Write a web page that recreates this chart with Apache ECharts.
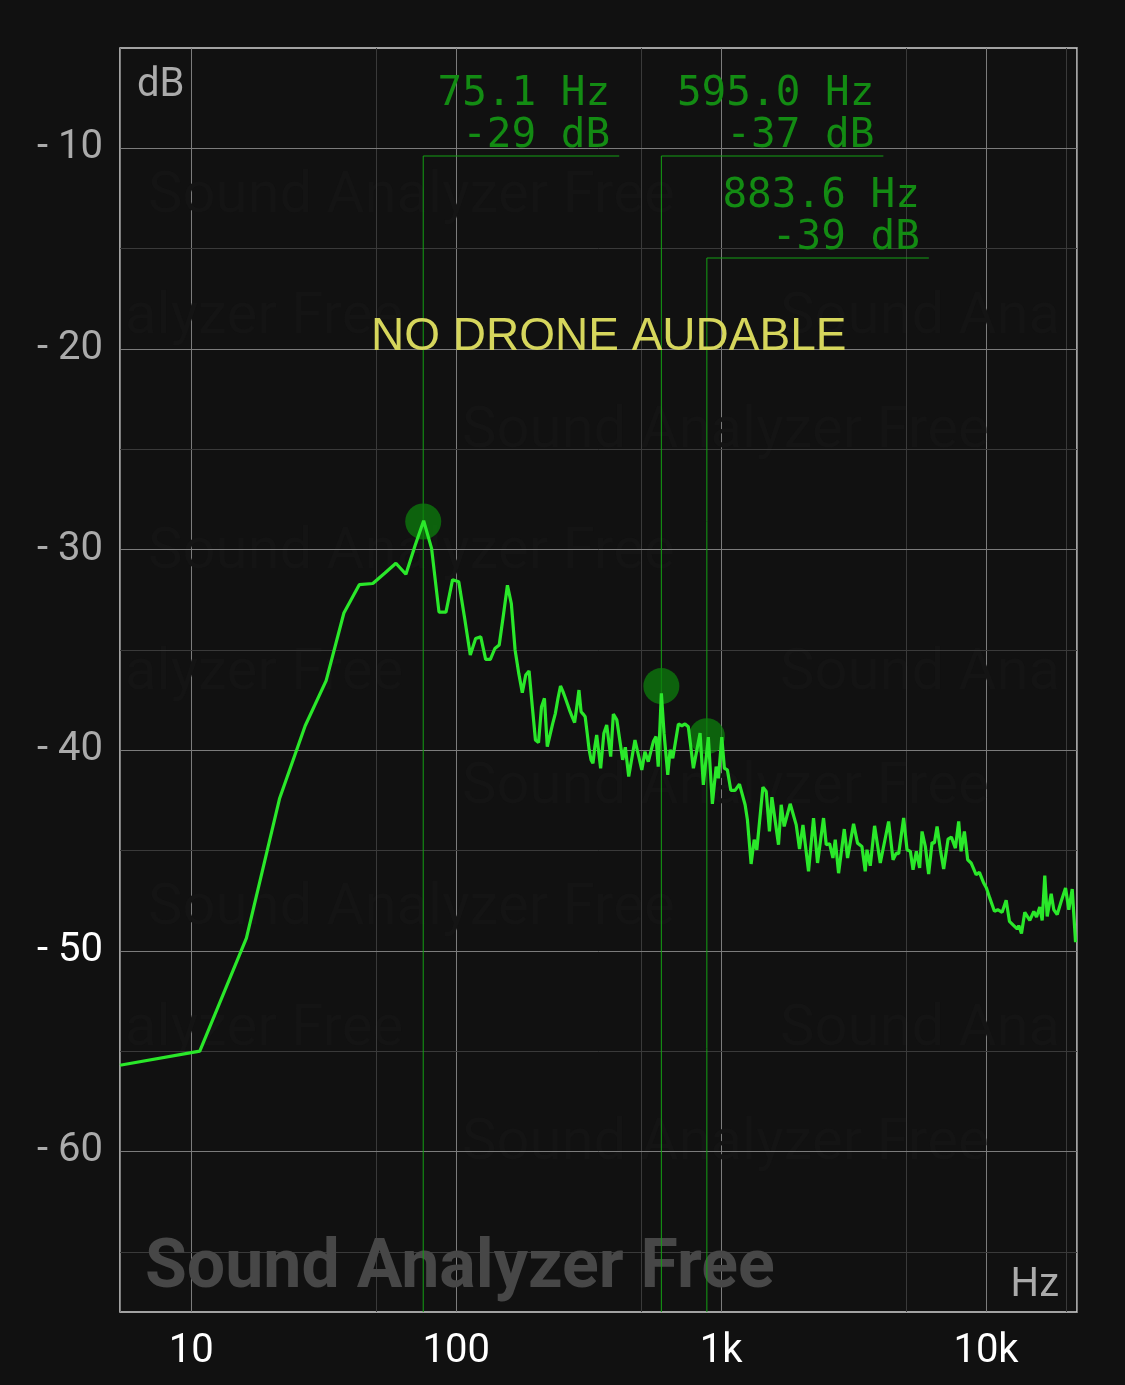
<!DOCTYPE html>
<html><head><meta charset="utf-8">
<script src="https://cdn.jsdelivr.net/npm/echarts@6/dist/echarts.min.js"></script>
<style>html,body{margin:0;padding:0;background:#111111;} #c{width:1125px;height:1385px;}</style>
</head><body><div id="c"></div>
<script>
// ---- data ----
const freqs = [5.38, 10.77, 16.15, 21.53, 26.92, 32.30, 37.68, 43.07, 48.45, 53.83,
  59.22, 64.60, 69.98, 75.37, 80.75, 86.13, 91.52, 96.90, 102.28, 107.67,
  113.05, 118.43, 123.82, 129.20, 134.58, 139.97, 145.35, 150.73, 156.12, 161.50,
  166.88, 172.27, 177.65, 183.03, 188.42, 193.80, 199.18, 204.57, 209.95, 215.33,
  220.72, 226.10, 231.48, 236.87, 242.25, 247.63, 253.02, 258.40, 263.78, 269.17,
  274.55, 279.93, 285.32, 290.70, 296.08, 301.47, 306.85, 312.23, 317.62, 323.00,
  328.38, 333.77, 339.15,
  351, 361, 370, 383, 392, 404, 425, 435, 448, 473, 502, 516, 531, 555, 568, 579,
  595, 609, 629, 642, 657, 690, 711, 731, 752, 786, 833, 857, 895, 927, 958, 977,
  1006, 1029, 1056, 1088, 1129, 1173, 1232, 1257, 1298, 1333, 1364, 1438, 1480, 1522,
  1555, 1647, 1686, 1730, 1823, 1921, 1977, 2037, 2138, 2233, 2312, 2436, 2494, 2567,
  2643, 2697, 2776, 2917, 3001, 3162, 3274, 3401, 3500, 3553, 3656, 3796, 3989, 4289,
  4457, 4587, 4680, 4887, 5033, 5180, 5303, 5458, 5616, 5735, 5902, 6073, 6256, 6383,
  6535, 6725, 6920, 7191, 7400, 7663, 7885, 8052, 8287, 8527, 8784, 8937, 9175, 9443,
  9802, 10035, 10327, 10759, 11071, 11503, 11912, 12258, 12727, 13108, 13293, 13609, 14006, 14630,
  15148, 15508, 15957, 16293, 16665, 17018, 17620, 18023, 18566, 19223, 19957, 20535, 21155, 21772];
const dbs = [-55.7, -55.0, -49.36, -42.42, -38.78, -36.53, -33.16, -31.75, -31.69, -31.17,
  -30.68, -31.23, -29.8, -28.56, -29.94, -33.12, -33.12, -31.5, -31.6, -33.43,
  -35.26, -34.43, -34.35, -35.47, -35.47, -34.93, -34.76, -33.27, -31.78, -32.69,
  -35.0, -36.17, -37.13, -36.25, -36.05, -37.83, -39.49, -39.62, -37.83, -37.41,
  -39.82, -39.24, -38.66, -38.16, -37.41, -36.8, -37.08, -37.41, -37.75, -38.08,
  -38.36, -38.62, -37.83, -37.0, -38.08, -38.2, -38.33, -39.15, -39.98, -40.48,
  -40.65, -39.82, -39.24,
  -40.9, -39.15, -38.74, -40.32, -38.2, -38.49, -40.48, -39.85, -41.31, -39.49, -40.98, -40.07, -40.57, -39.57, -39.32, -40.82,
  -37.16, -39.15, -41.23, -39.98, -40.4, -38.69, -38.78, -38.69, -38.83, -40.9, -39.15, -41.73, -39.35, -42.67, -40.82, -41.4,
  -39.35, -40.9, -40.98, -42.0, -42.0, -41.69, -42.72, -43.47, -45.67, -44.46, -44.96, -41.84, -42.06, -44.05,
  -42.34, -44.71, -42.72, -43.8, -42.67, -43.72, -44.93, -43.72, -46.04, -43.38, -45.62, -43.38, -44.71, -44.66,
  -45.37, -44.46, -46.13, -43.93, -45.37, -43.67, -44.63, -44.8, -46.04, -44.96, -45.76, -43.77, -45.62, -43.55,
  -45.46, -45.13, -45.16, -43.38, -44.96, -45.04, -45.96, -45.04, -45.87, -44.05, -44.8, -46.17, -44.6, -44.63,
  -43.8, -44.96, -45.92, -44.43, -44.33, -44.88, -43.55, -45.04, -44.05, -45.46, -45.62, -45.54, -46.2, -46.09,
  -46.62, -46.87, -47.36, -48.03, -47.95, -48.08, -47.48, -48.53, -48.74, -48.91, -48.74, -49.14, -48.08, -48.48,
  -48.03, -48.31, -47.81, -48.48, -46.25, -48.28, -47.15, -47.95, -48.19, -47.53, -46.87, -47.95, -46.92, -49.57];

const peakFreqs = [75.1, 595.0, 883.6];
const peakDbs = [-28.6, -36.8, -39.3];

const xTickValues = [10, 100, 1000, 10000];
const xTickLabels = ['10', '100', '1k', '10k'];
const xMinorGrid = [50, 500, 5000, 20000];
const yTickValues = [-60, -50, -40, -30, -20, -10];
const yTickLabels = ['- 60', '- 50', '- 40', '- 30', '- 20', '- 10'];
const yMinorGrid = [-65, -55, -45, -35, -25, -15];
const xRange = [5.383, 22050];
const yRange = [-68, -5];
const statusText = 'NO DRONE AUDABLE';
const watermark = 'Sound Analyzer Free';

// ---- chart ----
const lineData = freqs.map((f, i) => [f, dbs[i]]);
const peakData = peakFreqs.map((f, i) => [f, peakDbs[i]]);

const gridMarks = [];
xMinorGrid.forEach(v => gridMarks.push({ xAxis: v, lineStyle: { color: '#3a3a3a', width: 1, type: 'solid' }, label: { show: false } }));
yMinorGrid.forEach(v => gridMarks.push({ yAxis: v, lineStyle: { color: '#3a3a3a', width: 1, type: 'solid' }, label: { show: false } }));
yTickValues.forEach((v, i) => gridMarks.push({
  yAxis: v, lineStyle: { color: '#7c7c7c', width: 1, type: 'solid' },
  label: { show: true, position: 'start', formatter: yTickLabels[i], distance: 17,
    color: v === -50 ? '#ffffff' : '#ababab', fontSize: 40, fontFamily: 'Roboto' }
}));

function xLabel(v) {
  for (let i = 0; i < xTickValues.length; i++) {
    if (Math.abs(v - xTickValues[i]) / xTickValues[i] < 1e-6) return xTickLabels[i];
  }
  return '';
}

const option = {
  backgroundColor: '#111111',
  animation: false,
  grid: { left: 120, top: 48, width: 957, height: 1264, show: true, borderColor: '#d2d2d2', borderWidth: 1.5, backgroundColor: 'transparent' },
  xAxis: {
    type: 'log', logBase: 10, min: xRange[0], max: xRange[1],
    axisLine: { show: false }, axisTick: { show: false },
    splitLine: { show: true, lineStyle: { color: '#7c7c7c', width: 1 } },
    minorTick: { show: false }, minorSplitLine: { show: false },
    axisLabel: { formatter: xLabel, color: '#ffffff', fontSize: 40, fontFamily: 'Roboto', margin: 20, showMinLabel: false, showMaxLabel: false }
  },
  yAxis: {
    type: 'value', min: yRange[0], max: yRange[1],
    axisLine: { show: false }, axisTick: { show: false }, axisLabel: { show: false }, splitLine: { show: false }
  },
  series: [
    {
      type: 'scatter', data: peakData, symbol: 'circle', symbolSize: 36, z: 2,
      itemStyle: { color: 'rgba(12,128,12,0.92)' }, silent: true
    },
    {
      type: 'line', data: lineData, showSymbol: false, symbol: 'none', z: 3, clip: true,
      lineStyle: { color: '#2ae82a', width: 3.2 },
      markLine: { silent: true, symbol: 'none', z: 1, animation: false, data: gridMarks }
    }
  ]
};

const chart = echarts.init(document.getElementById('c'));
chart.setOption(option);

// ---- overlays positioned through the chart's own scales ----
const g = [];
const faint = '#141414';
const faintFont = '58px Roboto';
const rows = [[197, 148, watermark], [318, 125, 'alyzer Free'], [318, 780, 'Sound Ana'], [432, 462, watermark]];
[0, 356, 712].forEach(dy => rows.forEach(r => {
  if (r[0] + dy < 1200) g.push({ type: 'text', x: r[1], y: r[0] + dy, z: 0, silent: true,
    style: { text: r[2], font: faintFont, fill: faint, textAlign: 'left', textVerticalAlign: 'middle', align: 'left', verticalAlign: 'middle' } });
}));

g.push({ type: 'text', x: 145, y: 1270, z: 1, silent: true,
  style: { text: watermark, font: 'bold 68px Roboto', fill: '#474747', textAlign: 'left', textVerticalAlign: 'middle', align: 'left', verticalAlign: 'middle' } });
g.push({ type: 'text', x: 137, y: 86, z: 5, silent: true,
  style: { text: 'dB', font: '40px Roboto', fill: '#ababab', textAlign: 'left', textVerticalAlign: 'middle', align: 'left', verticalAlign: 'middle' } });
g.push({ type: 'text', x: 1059, y: 1286, z: 5, silent: true,
  style: { text: 'Hz', font: '40px Roboto', fill: '#ababab', textAlign: 'right', textVerticalAlign: 'middle', align: 'right', verticalAlign: 'middle' } });
g.push({ type: 'text', x: 371, y: 337, z: 5, silent: true,
  style: { text: statusText, font: '46px "Liberation Sans"', fill: '#d6d65c', textAlign: 'left', textVerticalAlign: 'middle', align: 'left', verticalAlign: 'middle' } });

const labelLineY = [156, 156, 258];
const labelLineLen = [196, 222, 222];
const bottomY = chart.convertToPixel({ yAxisIndex: 0 }, yRange[0]);
const mono = '41px "DejaVu Sans Mono"';
peakFreqs.forEach((f, i) => {
  const px = chart.convertToPixel({ xAxisIndex: 0 }, f);
  const ly = labelLineY[i];
  g.push({ type: 'line', z: 1, silent: true, shape: { x1: px, y1: ly, x2: px, y2: bottomY }, style: { stroke: '#14a014', lineWidth: 1 } });
  g.push({ type: 'line', z: 1, silent: true, shape: { x1: px, y1: ly, x2: px + labelLineLen[i], y2: ly }, style: { stroke: '#14a014', lineWidth: 1 } });
  const rx = px + labelLineLen[i] - 9;
  g.push({ type: 'text', x: rx, y: ly - 62, z: 5, silent: true,
    style: { text: f.toFixed(1) + ' Hz', font: mono, fill: '#138b13', textAlign: 'right', textVerticalAlign: 'middle', align: 'right', verticalAlign: 'middle' } });
  g.push({ type: 'text', x: rx, y: ly - 20, z: 5, silent: true,
    style: { text: Math.round(peakDbs[i]) + ' dB', font: mono, fill: '#138b13', textAlign: 'right', textVerticalAlign: 'middle', align: 'right', verticalAlign: 'middle' } });
});
chart.setOption({ graphic: { elements: g } });
</script>
</body></html>
